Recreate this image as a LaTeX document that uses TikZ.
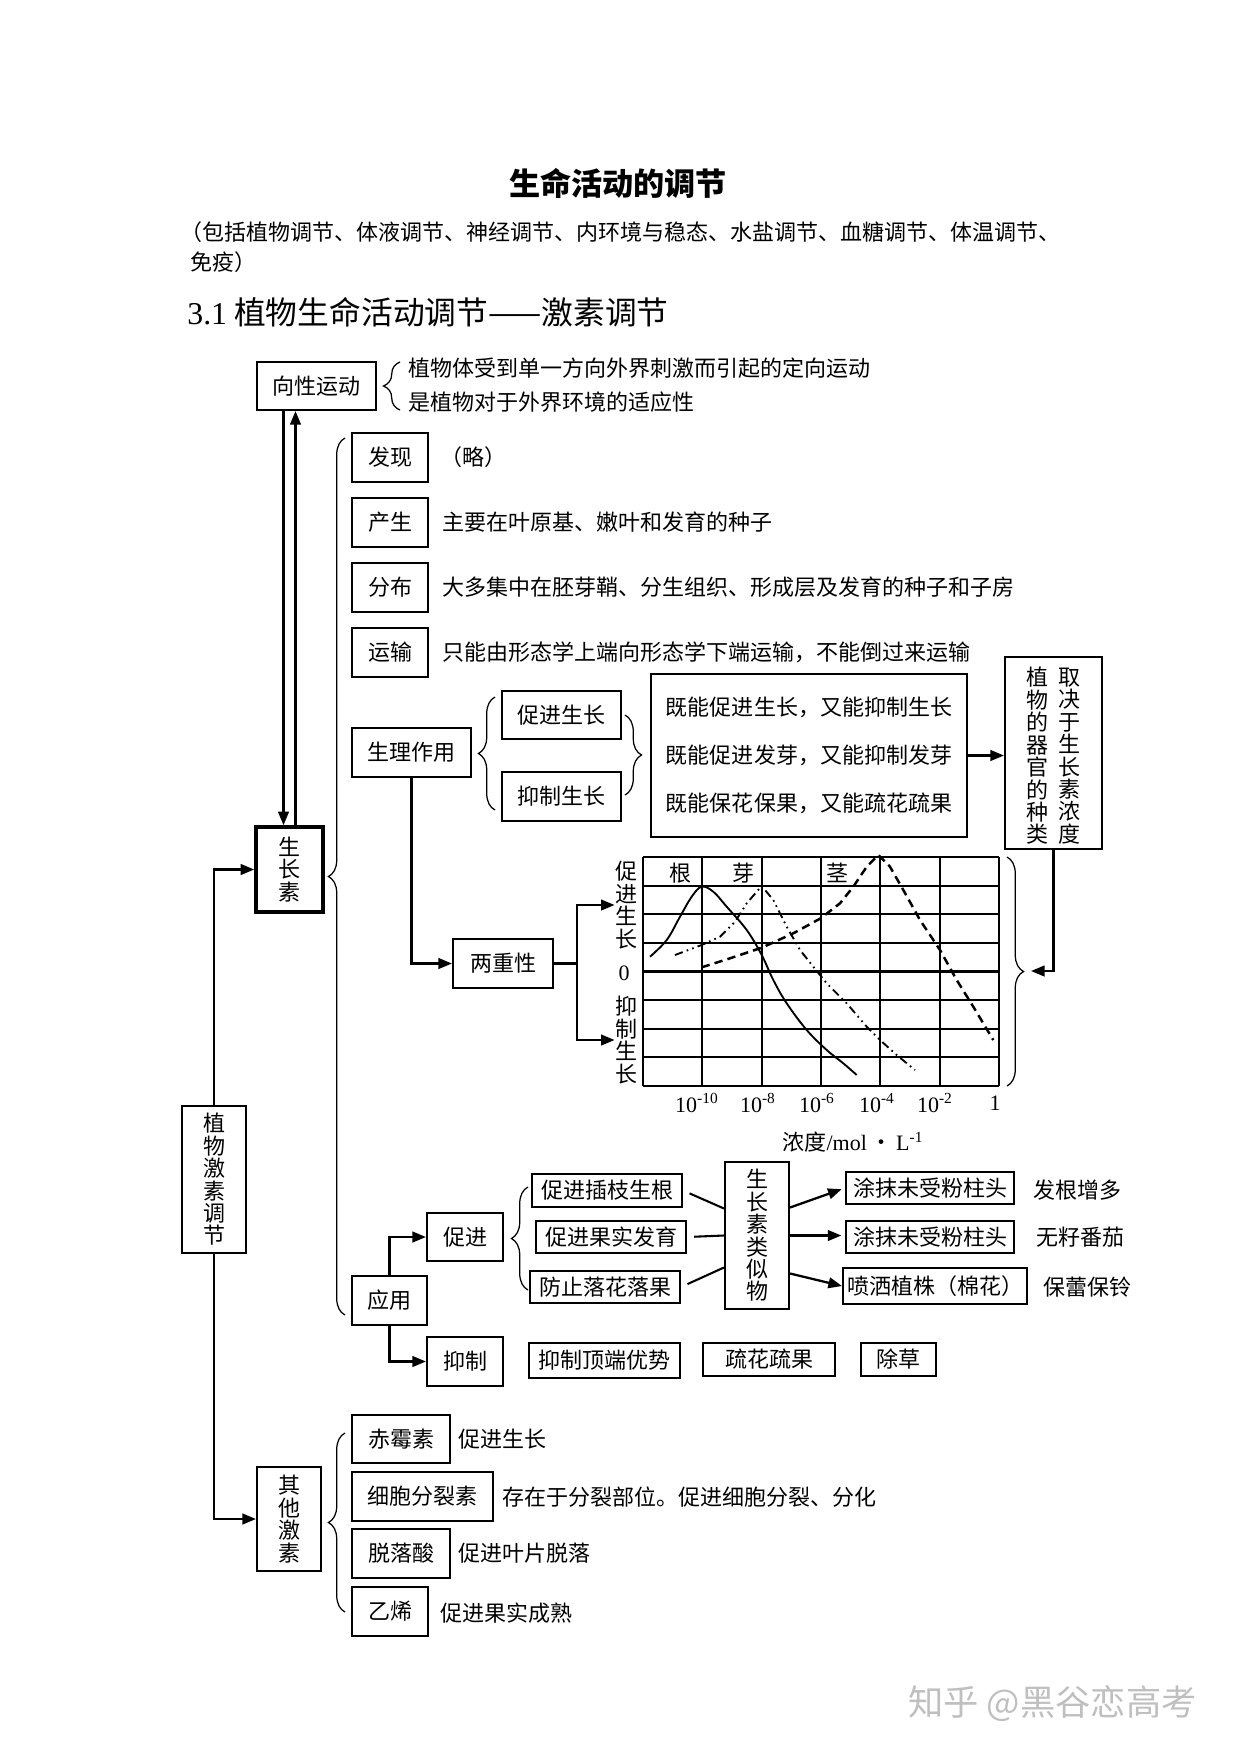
\documentclass[tikz,border=0pt]{standalone}
\usepackage{fontspec}
\setmainfont{Noto Sans CJK SC}
\newfontfamily\tnr{Liberation Serif}
\usetikzlibrary{arrows.meta,decorations.pathreplacing,calc}

\newcommand\wz{\fontsize{10.6pt}{10.8pt}\selectfont}
\newcommand\jnfont{\fontsize{10.6pt}{23.1pt}\selectfont}
\newcommand\titlefont{\fontsize{15pt}{18pt}\selectfont\bfseries}
\newcommand\headfont{\fontsize{15.3pt}{18pt}\selectfont}

\tikzset{
  box/.style={draw, line width=1pt, inner sep=0pt, align=center, font=\wz},
  sz/.style 2 args={minimum width=#1*0.16933mm, minimum height=#2*0.16933mm},
  txt/.style={anchor=west, inner sep=0pt, font=\wz},
  vt/.style={inner sep=0pt, align=center, font=\wz},
  line/.style={line width=1pt},
  arr/.style={line width=1.1pt, -{Triangle[length=2.3mm, width=1.8mm]}},
  gap/.style={shorten <=1.2mm},
  brc/.style={decorate, decoration={brace, amplitude=2.8mm}, line width=0.6pt},
}

\begin{document}
\begin{tikzpicture}[x=0.16933mm, y=-0.16933mm]
        \useasboundingbox (0,0) rectangle (1241,1754);

        % Title
        \node[font=\titlefont] (title) at (618,183) {生命活动的调节};
        \node[txt] (sub1) at (180,232) {（包括植物调节、体液调节、神经调节、内环境与稳态、水盐调节、血糖调节、体温调节、};
        \node[txt] (sub2) at (190,262) {免疫）};
        \node[txt, font=\headfont] (head) at (187,312) {{\tnr 3.1} 植物生命活动调节——激素调节};

        % Tropism
        \node[box, sz={119}{48}] (xxyd) at (316.5,386) {向性运动};
        \draw[brc] (400,410) -- (400,362);
        \node[txt] (xx1) at (408,368) {植物体受到单一方向外界刺激而引起的定向运动};
        \node[txt] (xx2) at (408,402) {是植物对于外界环境的适应性};

        % Auxin
        \node[box, sz={67}{85}, line width=1.7pt] (szs) at (289.5,869.5) {生\\长\\素};
        \coordinate (dn) at ($(szs.north)+(-6,0)$);
        \coordinate (up) at ($(szs.north)+(6,0)$);
        \draw[arr] (dn |- xxyd.south) -- (dn);
        \draw[arr] (up) -- (up |- xxyd.south);

        % Plant hormones
        \node[box, sz={64}{147}] (zwjs) at (214,1179.5) {植\\物\\激\\素\\调\\节};
        \draw[arr] (zwjs.north) |- (szs.west);
        \node[box, sz={64}{104}] (qtjs) at (289,1519) {其\\他\\激\\素};
        \draw[arr] (zwjs.south) |- (qtjs.west);

        % Big brace
        \draw[brc] (345,1315) -- (345,438);

        % Discovery, production, distribution, transport
        \foreach \lbl/\y/\n in {发现/457.5/fx, 产生/522.5/cs, 分布/587.5/fb, 运输/652.5/ys}
            \node[box, sz={76}{49}] (\n) at (390,\y) {\lbl};
        \node[txt] (fxt) at (440,457) {（略）};
        \node[txt] (cst) at (442,522) {主要在叶原基、嫩叶和发育的种子};
        \node[txt] (fbt) at (442,587) {大多集中在胚芽鞘、分生组织、形成层及发育的种子和子房};
        \node[txt] (yst) at (442,652) {只能由形态学上端向形态学下端运输，不能倒过来运输};

        % Physiological effect
        \node[box, sz={119}{49}] (slzy) at (411.5,752.5) {生理作用};
        \draw[brc] (495,810) -- (495,697);
        \node[box, sz={119}{48}] (cjsz) at (561.5,715) {促进生长};
        \node[box, sz={119}{49}] (yzsz) at (561.5,796.5) {抑制生长};
        \draw[brc] (625,715) -- (625,795);
        \node[box, sz={316}{163}, font=\jnfont] (jn) at (809,755.5) {既能促进生长，又能抑制生长\\既能促进发芽，又能抑制发芽\\既能保花保果，又能疏花疏果};
        \node[box, sz={97}{192}] (qj) at (1053.5,753) {};
        \node[vt] (qjL) at (1037,756) {植\\物\\的\\器\\官\\的\\种\\类};
        \node[vt] (qjR) at (1069,756) {取\\决\\于\\生\\长\\素\\浓\\度};
        \draw[arr] (jn.east) -- (jn.east -| qj.west);

        % Dual nature
        \node[box, sz={100}{49}] (lcx) at (503,963.5) {两重性};
        \draw[arr] (slzy.south) |- (lcx.west);

        % Grid
        \foreach \i in {0,...,6}
            \draw[line] (643+\i*59.33,857) -- (643+\i*59.33,1086);
        \foreach \j in {0,...,8}
            \draw[line] (643,857+\j*28.625) -- (999,857+\j*28.625);
        \draw[line width=1.5pt] (643,971.5) -- (999,971.5);

        % Curves
        \draw[line width=0.9pt] plot[smooth, tension=0.6] coordinates {(650,956.7) (666.7,940) (680,916.7) (691.7,896.7) (701.7,886.7) (713.3,891.7) (726.7,906.7) (746.7,930) (761.7,955) (773.3,980) (786.7,1003.3) (806.7,1030) (826.7,1050) (843.3,1063.3) (856.7,1075)};
        \draw[line width=0.9pt, dash pattern=on 4pt off 2pt on 0.8pt off 2pt on 0.8pt off 2pt] (675,955) -- (701.7,945) -- (720,936.7) -- (735,921.7) -- (746.7,903.3) -- (761.7,886) -- (773.3,900) -- (786.7,926.7) -- (800,950) -- (813.3,966.7) -- (826.7,983.3) -- (846.7,1003.3) -- (866.7,1026.7) -- (880,1040) -- (896.7,1055) -- (915,1070);
        \draw[line width=1.2pt, dash pattern=on 4pt off 2.5pt] (701.7,967.3) -- (730,958.3) -- (761.7,947.7) -- (793.3,933.3) -- (820.7,918.3) -- (840,903.3) -- (853.3,886.7) -- (866.7,866.7) -- (878.3,855) -- (890,866.7) -- (903.3,890) -- (920,920) -- (940,950) -- (956.7,980) -- (973.3,1006.7) -- (993.3,1040);

        % Organ labels
        \node[vt] (gen) at (680,873) {根};
        \node[vt] (ya) at (743,873) {芽};
        \node[vt] (jing) at (837,873) {茎};

        % Axis labels
        \node[vt] (ycj) at (626,905) {促\\进\\生\\长};
        \node[vt] (y0) at (624,973) {\tnr 0};
        \node[vt] (yyz) at (626,1040) {抑\\制\\生\\长};
        \coordinate (fork) at (577,963.5);
        \draw[line] (lcx.east) -- (fork);
        \draw[arr] (fork) |- (ycj.west);
        \draw[arr] (fork) |- (yyz.west);
        \foreach \e/\x in {-10/697, -8/758, -6/817, -4/877, -2/935}
            \node[vt, font=\wz\tnr] (xl\x) at (\x,1103) {10\textsuperscript{\e}};
        \node[vt, font=\wz\tnr] (xl1) at (995,1103) {1};
        \node[vt] (unit) at (853,1142) {浓度{\tnr /mol}\,•\,{\tnr L\textsuperscript{-1}}};

        % Right brace of the graph
        \draw[brc] (1007,857) -- (1007,1086);
        \coordinate (gtip) at (1031,971);
        \draw[arr] (qj.south) |- (gtip);

        % Application
        \node[box, sz={75}{49}] (yy) at (389.5,1300.5) {应用};
        \node[box, sz={76}{48}] (yycj) at (465,1237) {促进};
        \node[box, sz={76}{49}] (yyyz) at (465,1361.5) {抑制};
        \draw[arr] (yy.north) |- (yycj.west);
        \draw[arr] (yy.south) |- (yyyz.west);
        \draw[brc] (528,1290) -- (528,1187);
        \node[box, sz={150}{33}] (cz) at (607,1190.5) {促进插枝生根};
        \node[box, sz={150}{32}] (gs) at (611,1237) {促进果实发育};
        \node[box, sz={150}{32}] (fz) at (605,1287) {防止落花落果};
        \node[box, sz={64}{147}] (ls) at (757,1235.5) {生\\长\\素\\类\\似\\物};
        \draw[line, gap] (cz.east) -- ($(ls.west)+(0,-27)$);
        \draw[line, gap] (gs.east) -- (ls.west);
        \draw[line, gap] (fz.east) -- ($(ls.west)+(0,32)$);
        \node[box, sz={168}{32}] (tm1) at (930,1188) {涂抹未受粉柱头};
        \node[box, sz={168}{32}] (tm2) at (930,1237) {涂抹未受粉柱头};
        \node[box, sz={184}{36}] (ps) at (935,1286) {喷洒植株（棉花）};
        \draw[arr, shorten >=0.6mm] ($(ls.east)+(0,-28)$) -- (tm1.west);
        \draw[arr, shorten >=0.6mm] (ls.east) -- (ls.east -| tm2.west);
        \draw[arr] ($(ls.east)+(0,38)$) -- (ps.west);
        \node[txt] (tm1t) at (1033,1190) {发根增多};
        \node[txt] (tm2t) at (1036,1237) {无籽番茄};
        \node[txt] (pst) at (1043,1287) {保蕾保铃};
        \node[box, sz={151}{35}] (dd) at (604.5,1360.5) {抑制顶端优势};
        \node[box, sz={132}{33}] (sh) at (769,1359.5) {疏花疏果};
        \node[box, sz={75}{33}] (cc) at (898.5,1359.5) {除草};

        % Other hormones
        \draw[brc] (345,1612) -- (345,1433);
        \node[box, sz={98}{48}] (cms) at (401,1439) {赤霉素};
        \node[box, sz={141}{49}] (xbfl) at (422.5,1496.5) {细胞分裂素};
        \node[box, sz={98}{49}] (tls) at (401,1553.5) {脱落酸};
        \node[box, sz={76}{49}] (yx) at (390,1611.5) {乙烯};
        \node[txt] (cmst) at (458,1439) {促进生长};
        \node[txt] (xbflt) at (502,1497) {存在于分裂部位。促进细胞分裂、分化};
        \node[txt] (tlst) at (458,1553) {促进叶片脱落};
        \node[txt] (yxt) at (440,1613) {促进果实成熟};

        % Watermark
        \node[anchor=west, inner sep=0pt, text=black!25, font=\fontsize{17pt}{18pt}\selectfont] (zhihu) at (908,1703) {知乎 @黑谷恋高考};
    \end{tikzpicture}
\end{document}
